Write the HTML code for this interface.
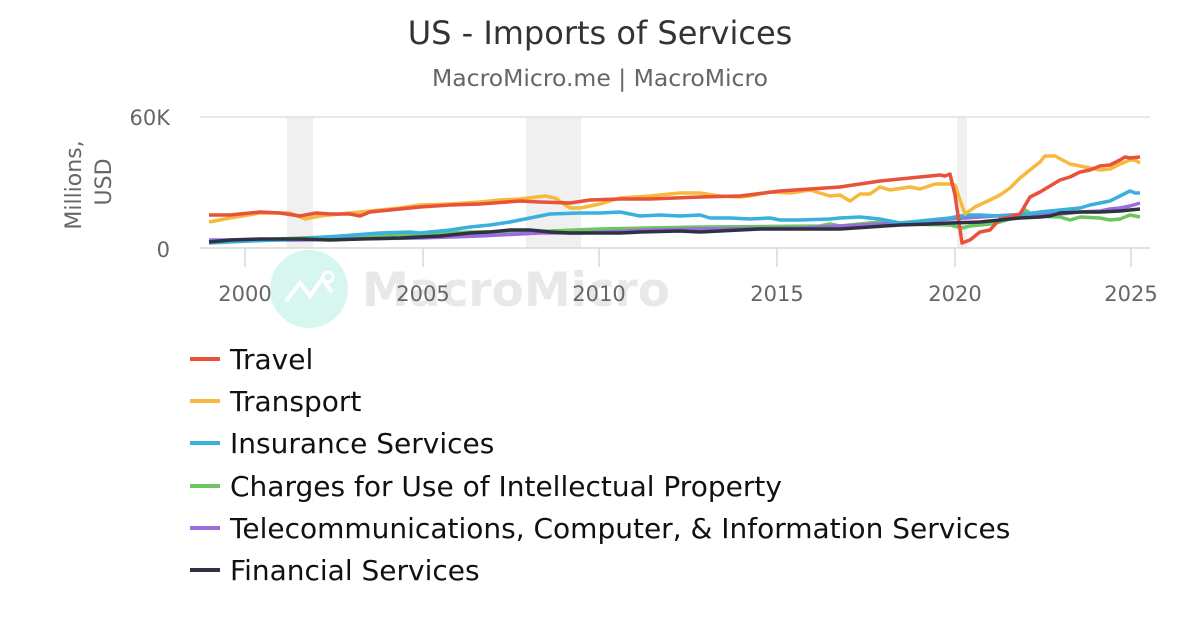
<!DOCTYPE html>
<html><head><meta charset="utf-8"><style>
body{margin:0;background:#fff;font-family:"DejaVu Sans","Liberation Sans",sans-serif;}
</style></head><body>
<svg width="1200" height="630" viewBox="0 0 1200 630" xmlns="http://www.w3.org/2000/svg" font-family="DejaVu Sans, Liberation Sans, sans-serif">
<rect width="1200" height="630" fill="#fff"/>
<text x="600" y="44" text-anchor="middle" font-size="32" fill="#333">US - Imports of Services</text>
<text x="600" y="86" text-anchor="middle" font-size="23.5" fill="#666">MacroMicro.me | MacroMicro</text>
<!-- watermark -->
<circle cx="309" cy="289" r="39" fill="#d6f6ef"/>
<polyline points="286,301 300,283 310,296 322,279 332,292" fill="none" stroke="#fff" stroke-width="4"/>
<circle cx="328" cy="277" r="5" fill="none" stroke="#fff" stroke-width="3"/>
<text x="362" y="306" font-size="47" font-weight="bold" fill="#e8e8e8">MacroMicro</text>
<!-- recession -->
<rect x="287" y="117" width="26" height="131" fill="#f0f0f0"/>
<rect x="526" y="117" width="55" height="131" fill="#f0f0f0"/>
<rect x="957" y="117" width="10" height="131" fill="#f0f0f0"/>
<line x1="200" y1="117" x2="1150" y2="117" stroke="#e0e0e0" stroke-width="1.5"/>
<line x1="200" y1="248" x2="1150" y2="248" stroke="#d8d8d8" stroke-width="1.5"/>
<g stroke="#d8d8d8" stroke-width="1.5">
<line x1="245" y1="248" x2="245" y2="267"/><line x1="423" y1="248" x2="423" y2="267"/><line x1="599" y1="248" x2="599" y2="267"/><line x1="777" y1="248" x2="777" y2="267"/><line x1="955" y1="248" x2="955" y2="267"/><line x1="1131" y1="248" x2="1131" y2="267"/>
</g>
<g font-size="21" fill="#666" text-anchor="middle">
<text x="245" y="301">2000</text><text x="423" y="301">2005</text><text x="599" y="301">2010</text><text x="777" y="301">2015</text><text x="955" y="301">2020</text><text x="1131" y="301">2025</text>
</g>
<g font-size="21" fill="#666" text-anchor="end">
<text x="170" y="125">60K</text><text x="170" y="257">0</text>
</g>
<g font-size="22" fill="#666" text-anchor="middle">
<text transform="translate(81,185) rotate(-90)">Millions,</text>
<text transform="translate(111,182) rotate(-90)">USD</text>
</g>
<g fill="none" stroke-width="3.5" stroke-linejoin="round">
<polyline stroke="#6cc75f" points="209,242 300,238 350,236 420,234 470,232 550,231 600,229 700,227 820,226 830,224 840,226 860,224 880,222 900,224 950,225 962,228 970,226 990,224 1000,222 1010,219 1020,215 1025,210 1035,216 1060,217 1070,220 1080,217 1100,218 1110,220 1120,219 1130,215 1140,217"/>
<polyline stroke="#9a6ce0" points="209,240 260,240 300,240 350,239 420,238 480,236 540,233 580,233 650,230 700,229 800,228 840,226 880,224 920,222 950,219 980,217 1010,215 1030,214 1060,214 1080,212 1100,211 1110,209 1120,208 1130,206 1140,203"/>
<polyline stroke="#3ab0dc" points="209,243 250,241 300,239 340,236 380,233 410,232 420,233 430,232 450,230 470,227 490,225 510,222 530,218 550,214 580,213 600,213 620,212 640,216 660,215 680,216 700,215 710,218 730,218 750,219 770,218 780,220 800,220 830,219 840,218 860,217 880,219 900,223 950,218 960,216 970,215 980,215 1000,216 1020,215 1040,212 1060,210 1070,209 1080,208 1090,205 1110,201 1120,196 1130,191 1135,193 1140,193"/>
<polyline stroke="#f6b93b" points="209,222 230,218 260,213 290,213 305,219 320,216 360,212 400,208 420,205 450,204 480,202 500,200 520,199 545,196 555,198 570,208 580,208 600,204 620,198 650,196 680,193 700,193 720,196 740,197 750,196 770,192 790,193 810,190 830,196 840,195 850,201 860,194 870,194 880,187 890,190 910,187 920,189 935,184 950,184 955,185 960,200 965,214 975,207 990,200 1000,195 1010,188 1020,178 1030,170 1040,162 1045,156 1055,156 1070,164 1090,168 1100,170 1110,169 1120,164 1130,160 1135,160 1140,163"/>
<polyline stroke="#e8513a" points="209,215 230,215 260,212 280,213 300,216 316,213 330,214 350,214 360,216 370,212 400,209 420,207 450,205 480,204 520,201 540,202 570,203 590,200 620,199 650,199 700,197 740,196 780,191 810,189 840,187 860,184 880,181 900,179 920,177 940,175 945,176 950,174 955,195 962,243 970,240 980,232 990,230 1000,219 1010,217 1020,214 1030,197 1040,192 1050,186 1060,180 1070,177 1080,172 1090,170 1100,166 1110,165 1120,160 1125,157 1130,158 1140,157"/>
<polyline stroke="#2f3240" points="209,242 230,240 260,239 300,239 330,240 360,239 400,238 440,236 470,233 490,232 510,230 530,230 550,232 570,233 590,233 620,233 640,232 680,231 700,232 720,231 760,229 800,229 840,229 870,227 900,225 930,224 950,223 980,222 1000,220 1020,218 1040,217 1050,216 1060,213 1080,212 1100,212 1120,211 1140,209"/>
</g>
<g stroke-width="4">
<line x1="190" y1="359" x2="220" y2="359" stroke="#e8513a"/>
<line x1="190" y1="401" x2="220" y2="401" stroke="#f6b93b"/>
<line x1="190" y1="443" x2="220" y2="443" stroke="#3ab0dc"/>
<line x1="190" y1="486" x2="220" y2="486" stroke="#6cc75f"/>
<line x1="190" y1="528" x2="220" y2="528" stroke="#9a6ce0"/>
<line x1="190" y1="570" x2="220" y2="570" stroke="#2f3240"/>
</g>
<g font-size="28" fill="#111">
<text x="230" y="369">Travel</text>
<text x="230" y="411">Transport</text>
<text x="230" y="453">Insurance Services</text>
<text x="230" y="496">Charges for Use of Intellectual Property</text>
<text x="230" y="538">Telecommunications, Computer, &amp; Information Services</text>
<text x="230" y="580">Financial Services</text>
</g>
</svg>
</body></html>
